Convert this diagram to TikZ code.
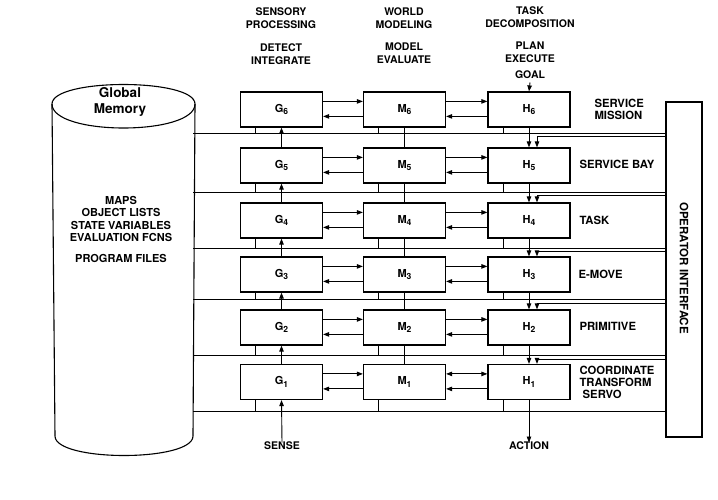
\documentclass[tikz,border=0pt]{standalone}
\usepackage{fontspec}
\setmainfont{TeX Gyre Heros}
\usetikzlibrary{arrows.meta}
\begin{document}
\begin{tikzpicture}[x=1pt,y=-1pt,
  every node/.style={font=\bfseries\fontsize{10.5}{12.5}\selectfont},
  blk/.style={draw,line width=1.2pt,minimum width=82pt,minimum height=35pt,inner sep=0pt,
    font=\bfseries\fontsize{11}{13}\selectfont},
  ln/.style={line width=0.9pt},
  arr/.style={ln,-{Triangle[length=6pt,width=4.5pt]}},
  darr/.style={ln,{Triangle[length=6pt,width=4.5pt]}-{Triangle[length=6pt,width=4.5pt]}},
  lbl/.style={anchor=west,align=left,font=\bfseries\fontsize{11.3}{12}\selectfont},
  hdr/.style={align=center}]
\useasboundingbox (0,0) rectangle (718,499);
\newcommand{\sbs}[1]{\raisebox{-2.2pt}{\fontsize{8.5}{9}\selectfont #1}}
% cylinder
\draw[line width=1.1pt] (52,104) .. controls (52,78) and (195,78) .. (195,104)
  .. controls (195,136) and (52,136) .. (52,104);
\draw[line width=1.1pt] (52,104) -- (55,436) .. controls (55,462) and (193,462) .. (193,436) -- (195,104);
\node[font=\bfseries\fontsize{13.5}{16}\selectfont,align=center] (gm) at (120,102) {Global\\Memory};
\node[align=center,font=\bfseries\fontsize{11}{12.3}\selectfont] (maps) at (121,219) {MAPS\\OBJECT LISTS\\STATE VARIABLES\\EVALUATION FCNS};
\node[font=\bfseries\fontsize{11}{12.3}\selectfont] (pf) at (121,258) {PROGRAM FILES};
% operator interface
\draw[line width=1.2pt] (666,102) rectangle (702,437);
\node[rotate=-90,font=\bfseries\fontsize{11.5}{13}\selectfont] (oi) at (684,268) {OPERATOR INTERFACE};
% headers
\node[hdr] (h1) at (281,18) {SENSORY\\PROCESSING};
\node[hdr] (h2) at (281,54) {DETECT\\INTEGRATE};
\node[hdr] (h3) at (404,18) {WORLD\\MODELING};
\node[hdr] (h4) at (404,53) {MODEL\\EVALUATE};
\node[hdr] (h5) at (530,17) {TASK\\DECOMPOSITION};
\node[hdr] (h6) at (530,52) {PLAN\\EXECUTE};
\node (goal) at (530,75) {GOAL};
% boxes
\foreach \i/\y in {6/109.5,5/165.5,4/220.5,3/274.5,2/327.5,1/382} {
  \node[blk] (G\i) at (281.5,\y) {G\sbs{\i}};
  \node[blk] (M\i) at (404.5,\y) {M\sbs{\i}};
  \node[blk] (H\i) at (529,\y) {H\sbs{\i}};
}
% buses and stubs
\foreach \i/\b in {6/133,5/192,4/248,3/299,2/355,1/411} {
  \coordinate (bl\i) at (193,\b);
  \coordinate (br\i) at (666,\b);
  \draw[ln] (bl\i) -- (br\i);
  \draw[ln] ([xshift=16pt]G\i.south west) |- (bl\i);
  \draw[ln] ([xshift=16pt]M\i.south west) |- (bl\i);
  \draw[ln] ([xshift=16pt]H\i.south west) |- (bl\i);
}
% command lines from operator interface
\foreach \j/\c in {5/136,4/195,3/251,2/303,1/359} {
  \coordinate (oc\j) at (666,\c);
  \draw[arr] (oc\j) -| ([xshift=8pt]H\j.north);
}
% horizontal arrows
\foreach \i in {6,5,4,3,2,1} {
  \draw[arr] ([yshift=-10pt]G\i.north east) -- ([yshift=-10pt]M\i.north west);
  \draw[arr] ([yshift=-25pt]M\i.north west) -- ([yshift=-25pt]G\i.north east);
  \draw[arr] ([yshift=-25pt]H\i.north west) -- ([yshift=-25pt]M\i.north east);
}
\foreach \i in {6,5,4,3,2} {
  \draw[arr] ([yshift=-10pt]M\i.north east) -- ([yshift=-10pt]H\i.north west);
}
\draw[darr] ([yshift=-10pt]M1.north east) -- ([yshift=-10pt]H1.north west);
% vertical chains
\foreach \i/\j in {1/2,2/3,3/4,4/5,5/6} {
  \draw[arr] (G\i.north) -- (G\j.south);
  \draw[ln] (M\i.north) -- (M\j.south);
  \draw[arr] (H\j.south) -- (H\i.north);
}
\node (sense) at (282,446) {SENSE};
\node (action) at (529,446) {ACTION};
\draw[arr] ([yshift=-4pt]sense.north) -- (G1.south);
\draw[arr] (goal.south) -- (H6.north);
\draw[arr] (H1.south) -- ([yshift=-4pt]action.north);
% right labels
\node[lbl] (l6) at (591,109) {SERVICE\\MISSION};
\node[lbl] (l5) at (576,164) {SERVICE BAY};
\node[lbl] (l4) at (576,220) {TASK};
\node[lbl] (l3) at (575,274) {E-MOVE};
\node[lbl] (l2) at (576,326) {PRIMITIVE};
\node[lbl] (l1) at (576,382) {COORDINATE\\TRANSFORM\\\ SERVO};
\end{tikzpicture}
\end{document}
